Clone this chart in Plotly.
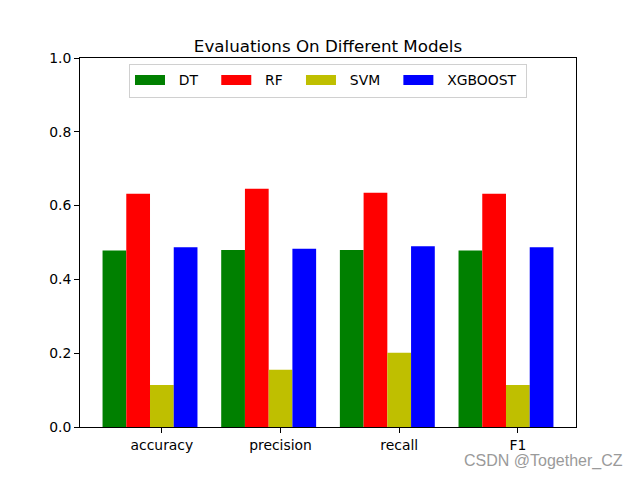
import plotly.graph_objects as go

metrics = ["accuracy", "precision", "recall", "F1"]
models = ["DT", "RF", "SVM", "XGBOOST"]
colors = ["green", "red", "#bfbf00", "blue"]
dt_vals = [0.478, 0.480, 0.480, 0.478]
rf_vals = [0.632, 0.646, 0.635, 0.632]
svm_vals = [0.114, 0.155, 0.201, 0.114]
xgb_vals = [0.487, 0.483, 0.490, 0.487]
series = [dt_vals, rf_vals, svm_vals, xgb_vals]
bar_w = 0.2

fig = go.Figure()
for i, (name, vals, c) in enumerate(zip(models, series, colors)):
    fig.add_trace(go.Bar(
        x=[k + i * bar_w for k in range(len(metrics))],
        y=vals, width=bar_w, name=name, showlegend=False,
        marker=dict(color=c, line=dict(width=0)),
    ))
# legend entries drawn as wide patches (matplotlib style); nbsp used only for spacing
NB = "\u00a0"
for j, (name, c) in enumerate(zip(models, colors)):
    label = NB * 2 + name + (NB * 3 if j < len(models) - 1 else NB)
    fig.add_trace(go.Scatter(x=[None], y=[None], mode="lines", name=label,
                             line=dict(color=c, width=10)))

font = "DejaVu Sans"
fig.update_layout(
    width=640, height=480,
    paper_bgcolor="white", plot_bgcolor="white",
    margin=dict(l=72, r=72, t=50, b=61),
    font=dict(family=font, size=13.9, color="black"),
    title=dict(text="Evaluations On Different Models", x=0.5, xanchor="center",
               xref="paper", y=1, yref="paper", yanchor="bottom", pad=dict(b=6),
               font=dict(family=font, size=16.7, color="black")),
    barmode="overlay",
    showlegend=True,
    legend=dict(orientation="h", x=0.5, xanchor="center", y=0.985, yanchor="top",
                bordercolor="#d0d0d0", borderwidth=1, bgcolor="rgba(255,255,255,0.8)",
                font=dict(family=font, size=13.9), traceorder="normal"),
)
fig.update_xaxes(range=[-0.29, 3.89], tickmode="array",
                 tickvals=[k + 2 * bar_w for k in range(len(metrics))], ticktext=metrics,
                 showline=True, mirror=True, linecolor="black", linewidth=1,
                 ticks="outside", ticklen=5, tickcolor="black", showgrid=False, zeroline=False)
fig.update_yaxes(range=[0, 1], tickmode="array", tickvals=[0, 0.2, 0.4, 0.6, 0.8, 1.0],
                 ticktext=["0.0", "0.2", "0.4", "0.6", "0.8", "1.0"],
                 showline=True, mirror=True, linecolor="black", linewidth=1,
                 ticks="outside", ticklen=5, tickcolor="black", showgrid=False, zeroline=False)
fig.add_annotation(text="CSDN @Together_CZ", xref="paper", yref="paper", x=1.0, y=-0.092,
                   xanchor="right", yanchor="middle", xshift=49, showarrow=False,
                   font=dict(family="Liberation Sans", size=16, color="#9a9a9a"))
fig.write_html("out.html")
